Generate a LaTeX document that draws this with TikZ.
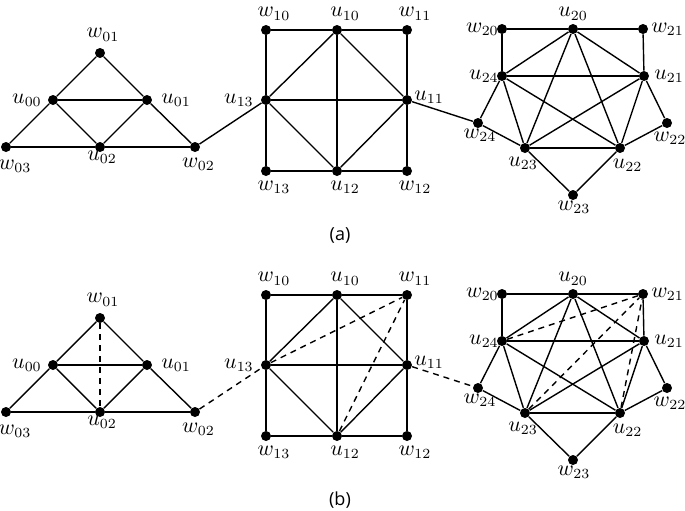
\documentclass[tikz,border=0pt]{standalone}
\usepackage{fontspec}
\newfontfamily\capfont{Open Sans}
\tikzset{
  dot/.style={circle,fill=black,inner sep=0pt,minimum size=5pt},
  lab/.style={inner sep=0.5pt,font=\fontsize{10.5}{12}\selectfont},
  edge/.style={line width=0.7pt},
  dedge/.style={line width=0.7pt,dash pattern=on 3pt off 2.5pt},
  captext/.style={font=\capfont\fontsize{9}{11}\selectfont},
  every label/.style={lab},
  label distance=1.5pt
}
\newcommand\drawgraphbody{%
  % triangle
  \node[dot,label={[yshift=1pt,xshift=1.5pt]above:$w_{01}$}] (w01) at (100,53) {};
  \node[dot,label={[xshift=-0.75pt]left:$u_{00}$}] (u00) at (53,100) {};
  \node[dot,label={[xshift=2.25pt]right:$u_{01}$}] (u01) at (147,100) {};
  \node[dot,label={[xshift=4.5pt,yshift=-1.5pt]below:$w_{03}$}] (w03) at (6,147) {};
  \node[dot,label={[xshift=1pt,yshift=3pt]below:$u_{02}$}] (u02) at (100,147) {};
  \node[dot,label={[xshift=1.75pt,yshift=-0.5pt]below:$w_{02}$}] (w02) at (195,147) {};
  % square
  \node[dot,label={[xshift=4pt]above:$w_{10}$}] (w10) at (266,30) {};
  \node[dot,label={[xshift=4pt]above:$u_{10}$}] (u10) at (337,30) {};
  \node[dot,label={[xshift=4pt]above:$w_{11}$}] (w11) at (407,30) {};
  \node[dot,label={[xshift=-1.25pt]left:$u_{13}$}] (u13) at (266,100) {};
  \node[dot,label={[xshift=-1.25pt,yshift=1.5pt]right:$u_{11}$}] (u11) at (407,100) {};
  \node[dot,label={[xshift=4pt]below:$w_{13}$}] (w13) at (266,171) {};
  \node[dot,label={[xshift=4pt]below:$u_{12}$}] (u12) at (337,171) {};
  \node[dot,label={[xshift=4pt]below:$w_{12}$}] (w12) at (407,171) {};
  % pentagon
  \node[dot,label={[xshift=3.25pt]left:$w_{20}$}] (w20) at (502,29) {};
  \node[dot,label={[yshift=-0.5pt]above:$u_{20}$}] (u20) at (573,29) {};
  \node[dot,label={[xshift=-0.75pt]right:$w_{21}$}] (w21) at (643,29) {};
  \node[dot,label={[xshift=3.25pt]left:$u_{24}$}] (u24) at (502,76) {};
  \node[dot,label={[xshift=0.25pt]right:$u_{21}$}] (u21) at (644,76) {};
  \node[dot,label={[xshift=1pt,yshift=1.8pt]below:$w_{24}$}] (w24) at (478,123) {};
  \node[dot,label={[xshift=1.5pt,yshift=0.3pt]below:$w_{22}$}] (w22) at (667,123) {};
  \node[dot,label={[xshift=-1pt,yshift=0.5pt]below:$u_{23}$}] (u23) at (525,148) {};
  \node[dot,label={[xshift=3.75pt,yshift=-0.7pt]below:$u_{22}$}] (u22) at (620,148) {};
  \node[dot,label={[xshift=0.5pt,yshift=2pt]below:$w_{23}$}] (w23) at (573,195) {};
  % common edges
  \foreach \a/\b in {w01/u00,w01/u01,u00/u01,u00/u02,u01/u02,u00/w03,u01/w02,w03/u02,u02/w02,
    w10/u10,u10/w11,w10/u13,w11/u11,u13/u11,u10/u12,u13/w13,u11/w12,w13/u12,u12/w12,
    u10/u13,u10/u11,u13/u12,u11/u12,
    w20/u20,u20/w21,w20/u24,w21/u21,u24/u21,u20/u24,u20/u21,u20/u23,u20/u22,
    u24/u23,u24/u22,u21/u23,u21/u22,u23/u22,u24/w24,w24/u23,u21/w22,w22/u22,u23/w23,u22/w23}
    {\draw[edge] (\a) -- (\b);}
}
\begin{document}
\begin{tikzpicture}[x=0.5pt,y=-0.5pt]
\useasboundingbox (0,0) rectangle (685,510);
\begin{scope}[name prefix=a-]
  \drawgraphbody
  \draw[edge] (w02) -- (u13);
  \draw[edge] (u11) -- (w24);
  \node[captext] (capa) at (340,235) {(a)};
\end{scope}
\begin{scope}[shift={(0,265)},name prefix=b-]
  \drawgraphbody
  \foreach \a/\b in {w01/u02,w02/u13,u13/w11,u12/w11,u11/w24,u24/w21,u23/w21,u22/w21}
    {\draw[dedge] (\a) -- (\b);}
\end{scope}
\node[captext] (capb) at (340,500) {(b)};
\end{tikzpicture}
\end{document}
